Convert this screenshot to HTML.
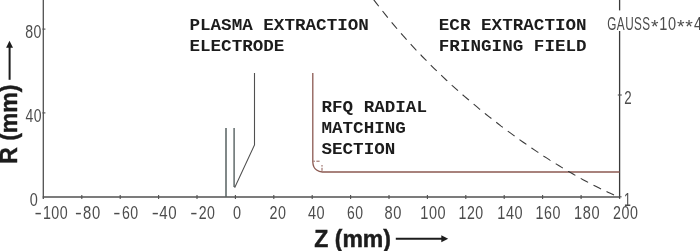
<!DOCTYPE html>
<html>
<head>
<meta charset="utf-8">
<title>Plasma extraction electrode and RFQ radial matching section</title>
<style>
  html, body { margin: 0; padding: 0; background: #ffffff; }
  body { width: 700px; height: 251px; overflow: hidden; }
  svg { display: block; }
  .mono { font-family: "Liberation Mono", monospace; font-weight: bold; font-size: 17.6px; fill: #1c1c1c; }
  .tick { font-family: "Liberation Sans", sans-serif; font-size: 18.4px; fill: #4c4c4c; letter-spacing: 0.7px; }
  .axl  { font-family: "Liberation Sans", sans-serif; font-weight: bold; font-size: 23px; fill: #1c1c1c; stroke: #1c1c1c; stroke-width: 0.45px; }
</style>
</head>
<body>
<svg width="700" height="251" viewBox="0 0 700 251">
  <rect x="0" y="0" width="700" height="251" fill="#ffffff"/>

  <!-- axes -->
  <g stroke="#505050" stroke-width="1.3" fill="none">
    <line x1="43.3" y1="0" x2="43.3" y2="199"/>
    <line x1="42.7" y1="197" x2="620" y2="197"/>
    <line x1="619.6" y1="0" x2="619.6" y2="198.8" stroke="#3a3a3a"/>
  </g>

  <!-- ticks -->
  <g stroke="#505050" stroke-width="1.1">
    <line x1="81.8" y1="195" x2="81.8" y2="199"/>
    <line x1="120.2" y1="195" x2="120.2" y2="199"/>
    <line x1="158.6" y1="195" x2="158.6" y2="199"/>
    <line x1="197.0" y1="195" x2="197.0" y2="199"/>
    <line x1="235.4" y1="195" x2="235.4" y2="199"/>
    <line x1="273.8" y1="195" x2="273.8" y2="199"/>
    <line x1="312.2" y1="195" x2="312.2" y2="199"/>
    <line x1="350.6" y1="195" x2="350.6" y2="199"/>
    <line x1="389.0" y1="195" x2="389.0" y2="199"/>
    <line x1="427.4" y1="195" x2="427.4" y2="199"/>
    <line x1="465.8" y1="195" x2="465.8" y2="199"/>
    <line x1="504.2" y1="195" x2="504.2" y2="199"/>
    <line x1="542.6" y1="195" x2="542.6" y2="199"/>
    <line x1="581.1" y1="195" x2="581.1" y2="199"/>
    <line x1="42.4" y1="112.9" x2="45.4" y2="112.9"/>
    <line x1="42.4" y1="29.1" x2="45.4" y2="29.1"/>
    <line x1="617.8" y1="95" x2="621.8" y2="95"/>
    <line x1="619" y1="196.8" x2="621.6" y2="196.8"/>
  </g>

  <!-- electrode geometry -->
  <g stroke="#4a4a4a" stroke-width="1.1" fill="none">
    <line x1="226" y1="128" x2="226" y2="197" stroke="#566060" stroke-width="1.5"/>
    <line x1="234.1" y1="128" x2="234.1" y2="187" stroke="#566060" stroke-width="1.4"/>
    <polyline points="234.1,186.6 234.9,187.2 254.5,145 254.5,73" stroke="#505050" stroke-width="1.1"/>
  </g>

  <!-- RFQ radial matching section -->
  <g stroke="#8c5a52" stroke-width="1.3" fill="none">
    <path d="M312.8 73 L312.8 162 Q313 167.6 316.6 170 Q319 171.8 322.4 172 L619.6 172"/>
    <path d="M313.4 161.2 L314.9 161.2 M316.4 161.2 L319.6 161.2 M322 165 L322 166.6 M322 167.8 L322 170.8" stroke-width="1"/>
  </g>

  <!-- ECR fringing field curve -->
  <polyline points="373.0,-1.2 376.1,2.8 379.1,6.7 382.2,10.6 385.2,14.4 388.3,18.2 391.3,21.9 394.4,25.6 397.4,29.2 400.5,32.7 403.5,36.2 406.6,39.6 409.6,43.0 412.7,46.3 415.7,49.6 418.8,52.8 421.8,56.0 424.9,59.1 427.9,62.2 431.0,65.3 434.0,68.3 437.1,71.3 440.1,74.2 443.2,77.1 446.2,80.0 449.3,82.8 452.3,85.6 455.4,88.3 458.4,91.1 461.5,93.8 464.5,96.4 467.6,99.0 470.6,101.6 473.7,104.2 476.7,106.7 479.8,109.3 482.8,111.7 485.9,114.2 488.9,116.6 492.0,119.0 495.0,121.4 498.1,123.7 501.1,126.1 504.2,128.4 507.2,130.7 510.3,132.9 513.3,135.1 516.4,137.3 519.4,139.5 522.5,141.7 525.5,143.8 528.6,145.9 531.6,148.0 534.7,150.1 537.7,152.1 540.8,154.2 543.8,156.2 546.9,158.1 549.9,160.1 553.0,162.0 556.0,163.9 559.1,165.8 562.1,167.6 565.2,169.5 568.2,171.3 571.3,173.0 574.3,174.8 577.4,176.5 580.4,178.2 583.5,179.9 586.5,181.5 589.6,183.2 592.6,184.7 595.7,186.3 598.7,187.8 601.8,189.3 604.8,190.8 607.9,192.2 610.9,193.6 614.0,194.9" stroke="#3a3a3a" stroke-width="1.1" fill="none" stroke-dasharray="8.4 6.1" stroke-dashoffset="-1"/>

  <!-- titles -->
  <text class="mono" transform="translate(189.4,29.9) scale(1,0.89)">PLASMA EXTRACTION</text>
  <text class="mono" transform="translate(189.4,50.6) scale(1,0.89)">ELECTRODE</text>
  <text class="mono" transform="translate(438.8,29.9) scale(1,0.89)">ECR EXTRACTION</text>
  <text class="mono" transform="translate(438.8,50.6) scale(1,0.89)">FRINGING FIELD</text>
  <text class="mono" transform="translate(321.4,112.3) scale(1,0.89)">RFQ RADIAL</text>
  <text class="mono" transform="translate(321.4,133) scale(1,0.89)">MATCHING</text>
  <text class="mono" transform="translate(321.4,153.7) scale(1,0.89)">SECTION</text>

  <!-- tick labels -->
  <g class="tick">
    <text x="25.2" y="37.7" textLength="16.8" lengthAdjust="spacingAndGlyphs">80</text>
    <text x="25.4" y="122.4" textLength="16.6" lengthAdjust="spacingAndGlyphs">40</text>
    <text x="29.7" y="206" textLength="8.6" lengthAdjust="spacingAndGlyphs">0</text>
    <text y="218.8"><tspan x="34.4" textLength="8.2" lengthAdjust="spacingAndGlyphs">-</tspan><tspan x="42.9" textLength="25.4" lengthAdjust="spacingAndGlyphs">100</tspan></text>
    <text y="218.8"><tspan x="75.0" textLength="7.6" lengthAdjust="spacingAndGlyphs">-</tspan><tspan x="83.1" textLength="17.6" lengthAdjust="spacingAndGlyphs">80</tspan></text>
    <text y="218.8"><tspan x="113.2" textLength="8.0" lengthAdjust="spacingAndGlyphs">-</tspan><tspan x="121.9" textLength="16.8" lengthAdjust="spacingAndGlyphs">60</tspan></text>
    <text y="218.8"><tspan x="151.7" textLength="7.9" lengthAdjust="spacingAndGlyphs">-</tspan><tspan x="159.2" textLength="17.9" lengthAdjust="spacingAndGlyphs">40</tspan></text>
    <text y="218.8"><tspan x="190.2" textLength="8.0" lengthAdjust="spacingAndGlyphs">-</tspan><tspan x="198.7" textLength="16.8" lengthAdjust="spacingAndGlyphs">20</tspan></text>
    <text x="232.9" y="218.8" textLength="8.6" lengthAdjust="spacingAndGlyphs">0</text>
    <text x="269.5" y="218.8" textLength="17.0" lengthAdjust="spacingAndGlyphs">20</text>
    <text x="307.9" y="218.8" textLength="17.2" lengthAdjust="spacingAndGlyphs">40</text>
    <text x="346.9" y="218.8" textLength="16.6" lengthAdjust="spacingAndGlyphs">60</text>
    <text x="384.5" y="218.8" textLength="17.4" lengthAdjust="spacingAndGlyphs">80</text>
    <text x="420.3" y="218.8" textLength="25.8" lengthAdjust="spacingAndGlyphs">100</text>
    <text x="458.5" y="218.8" textLength="25.2" lengthAdjust="spacingAndGlyphs">120</text>
    <text x="497.3" y="218.8" textLength="25.8" lengthAdjust="spacingAndGlyphs">140</text>
    <text x="535.5" y="218.8" textLength="25.4" lengthAdjust="spacingAndGlyphs">160</text>
    <text x="574.1" y="218.8" textLength="26.0" lengthAdjust="spacingAndGlyphs">180</text>
    <text x="613.1" y="218.8" textLength="25.4" lengthAdjust="spacingAndGlyphs">200</text>
    <text x="624.3" y="104.3" textLength="7.9" lengthAdjust="spacingAndGlyphs">2</text>
    <text x="623.9" y="205.6" textLength="7.4" lengthAdjust="spacingAndGlyphs">1</text>
  </g>
  <rect x="604" y="10.4" width="96" height="20.6" fill="#ffffff"/>
  <text class="tick" y="30"><tspan x="607.3" y="30" textLength="43.3" lengthAdjust="spacingAndGlyphs">GAUSS</tspan><tspan x="650.9" y="32.8" textLength="8.2" lengthAdjust="spacingAndGlyphs">*</tspan><tspan x="659.3" y="30" textLength="17.3" lengthAdjust="spacingAndGlyphs">10</tspan><tspan x="677" y="32.8" textLength="16.6" lengthAdjust="spacingAndGlyphs">**</tspan><tspan x="694" y="30" textLength="8.6" lengthAdjust="spacingAndGlyphs">4</tspan></text>

  <!-- axis labels -->
  <text class="axl" x="314.3" y="246.6">Z (mm)</text>
  <g stroke="#1c1c1c" fill="#1c1c1c">
    <line x1="395.8" y1="238.8" x2="443" y2="238.8" stroke-width="2"/>
    <path d="M448.2 238.8 L441.3 235.3 L441.3 242.3 Z" stroke="none"/>
  </g>
  <text class="axl" transform="translate(16.6,163.8) rotate(-90)">R (mm)</text>
  <g stroke="#1c1c1c" fill="#1c1c1c">
    <line x1="9.6" y1="79.8" x2="9.6" y2="46" stroke-width="2"/>
    <path d="M9.5 40.7 L6.1 47.8 L13 47.8 Z" stroke="none"/>
  </g>
</svg>
</body>
</html>
